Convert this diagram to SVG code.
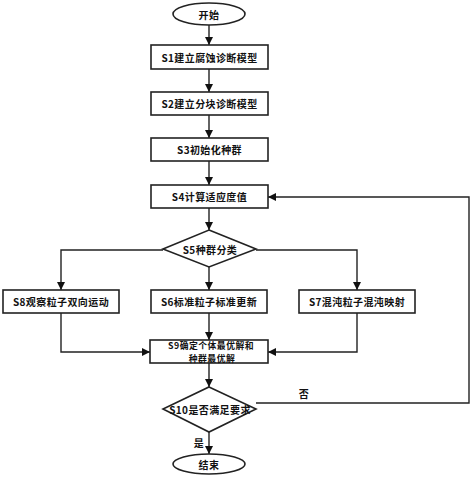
<svg xmlns="http://www.w3.org/2000/svg" width="474" height="484" viewBox="0 0 474 484">
<defs>
<style>
.n{fill:#fff;stroke:#222;stroke-width:1.6}
.t{font-family:"Noto Sans CJK SC","Noto Sans",sans-serif;font-size:10px;font-weight:bold;fill:#111;text-anchor:middle;dominant-baseline:central;letter-spacing:0.4px}
.s{font-size:8.8px;letter-spacing:0.5px}
.c{fill:none;stroke:#222;stroke-width:1.4}
</style>
<marker id="a" viewBox="0 0 10 10" refX="10" refY="5" markerWidth="8" markerHeight="8" markerUnits="userSpaceOnUse" orient="auto">
<path d="M0,0 L10,5 L0,10 Z" fill="#111"/>
</marker>
</defs>
<rect width="474" height="484" fill="#fff"/>
<g id="connectors">
<path class="c" d="M209,25 V45" marker-end="url(#a)"/>
<path class="c" d="M209,69 V92" marker-end="url(#a)"/>
<path class="c" d="M209,115 V138" marker-end="url(#a)"/>
<path class="c" d="M209,161 V185" marker-end="url(#a)"/>
<path class="c" d="M209,208 V230" marker-end="url(#a)"/>
<path class="c" d="M163,250 H61 V290" marker-end="url(#a)"/>
<path class="c" d="M209,267 V290" marker-end="url(#a)"/>
<path class="c" d="M256,250 H357 V290" marker-end="url(#a)"/>
<path class="c" d="M61,313 V352 H150" marker-end="url(#a)"/>
<path class="c" d="M209,313 V340" marker-end="url(#a)"/>
<path class="c" d="M357,313 V352 H268" marker-end="url(#a)"/>
<path class="c" d="M209,363 V387" marker-end="url(#a)"/>
<path class="c" d="M256,403 H469 V197 H268" marker-end="url(#a)"/>
<path class="c" d="M209,432 V454" marker-end="url(#a)"/>
<text class="t" x="304" y="393">否</text>
<text class="t" x="199" y="442">是</text>
</g>
<g id="start"><ellipse class="n" cx="209" cy="14" rx="36" ry="11"/><text class="t" x="209" y="14">开始</text></g>
<g id="s1"><rect class="n" x="151" y="45" width="117" height="24"/><text class="t" x="209.5" y="57">S1建立腐蚀诊断模型</text></g>
<g id="s2"><rect class="n" x="151" y="92" width="117" height="23"/><text class="t" x="209.5" y="103.5">S2建立分块诊断模型</text></g>
<g id="s3"><rect class="n" x="151" y="138" width="117" height="23"/><text class="t" x="209.5" y="149.5">S3初始化种群</text></g>
<g id="s4"><rect class="n" x="151" y="185" width="117" height="23"/><text class="t" x="209.5" y="196.5">S4计算适应度值</text></g>
<g id="s5"><polygon class="n" points="209,230 256,249 209,267 163,249"/><text class="t" x="210" y="249">S5种群分类</text></g>
<g id="s8"><rect class="n" x="3" y="290" width="116" height="23"/><text class="t" x="61" y="301.5">S8观察粒子双向运动</text></g>
<g id="s6"><rect class="n" x="151" y="290" width="116" height="23"/><text class="t" x="209" y="301.5">S6标准粒子标准更新</text></g>
<g id="s7"><rect class="n" x="299" y="290" width="116" height="23"/><text class="t" x="357" y="301.5">S7混沌粒子混沌映射</text></g>
<g id="s9"><rect class="n" x="150" y="340" width="118" height="23"/><text class="t s" x="211" y="345">S9确定个体最优解和</text><text class="t s" x="212" y="358">种群最优解</text></g>
<g id="s10"><polygon class="n" points="209,387 256,409 209,432 163,409"/><text class="t" x="210" y="409">S10是否满足要求</text></g>
<g id="end"><ellipse class="n" cx="209" cy="464" rx="36" ry="10"/><text class="t" x="209" y="464">结束</text></g>
</svg>
